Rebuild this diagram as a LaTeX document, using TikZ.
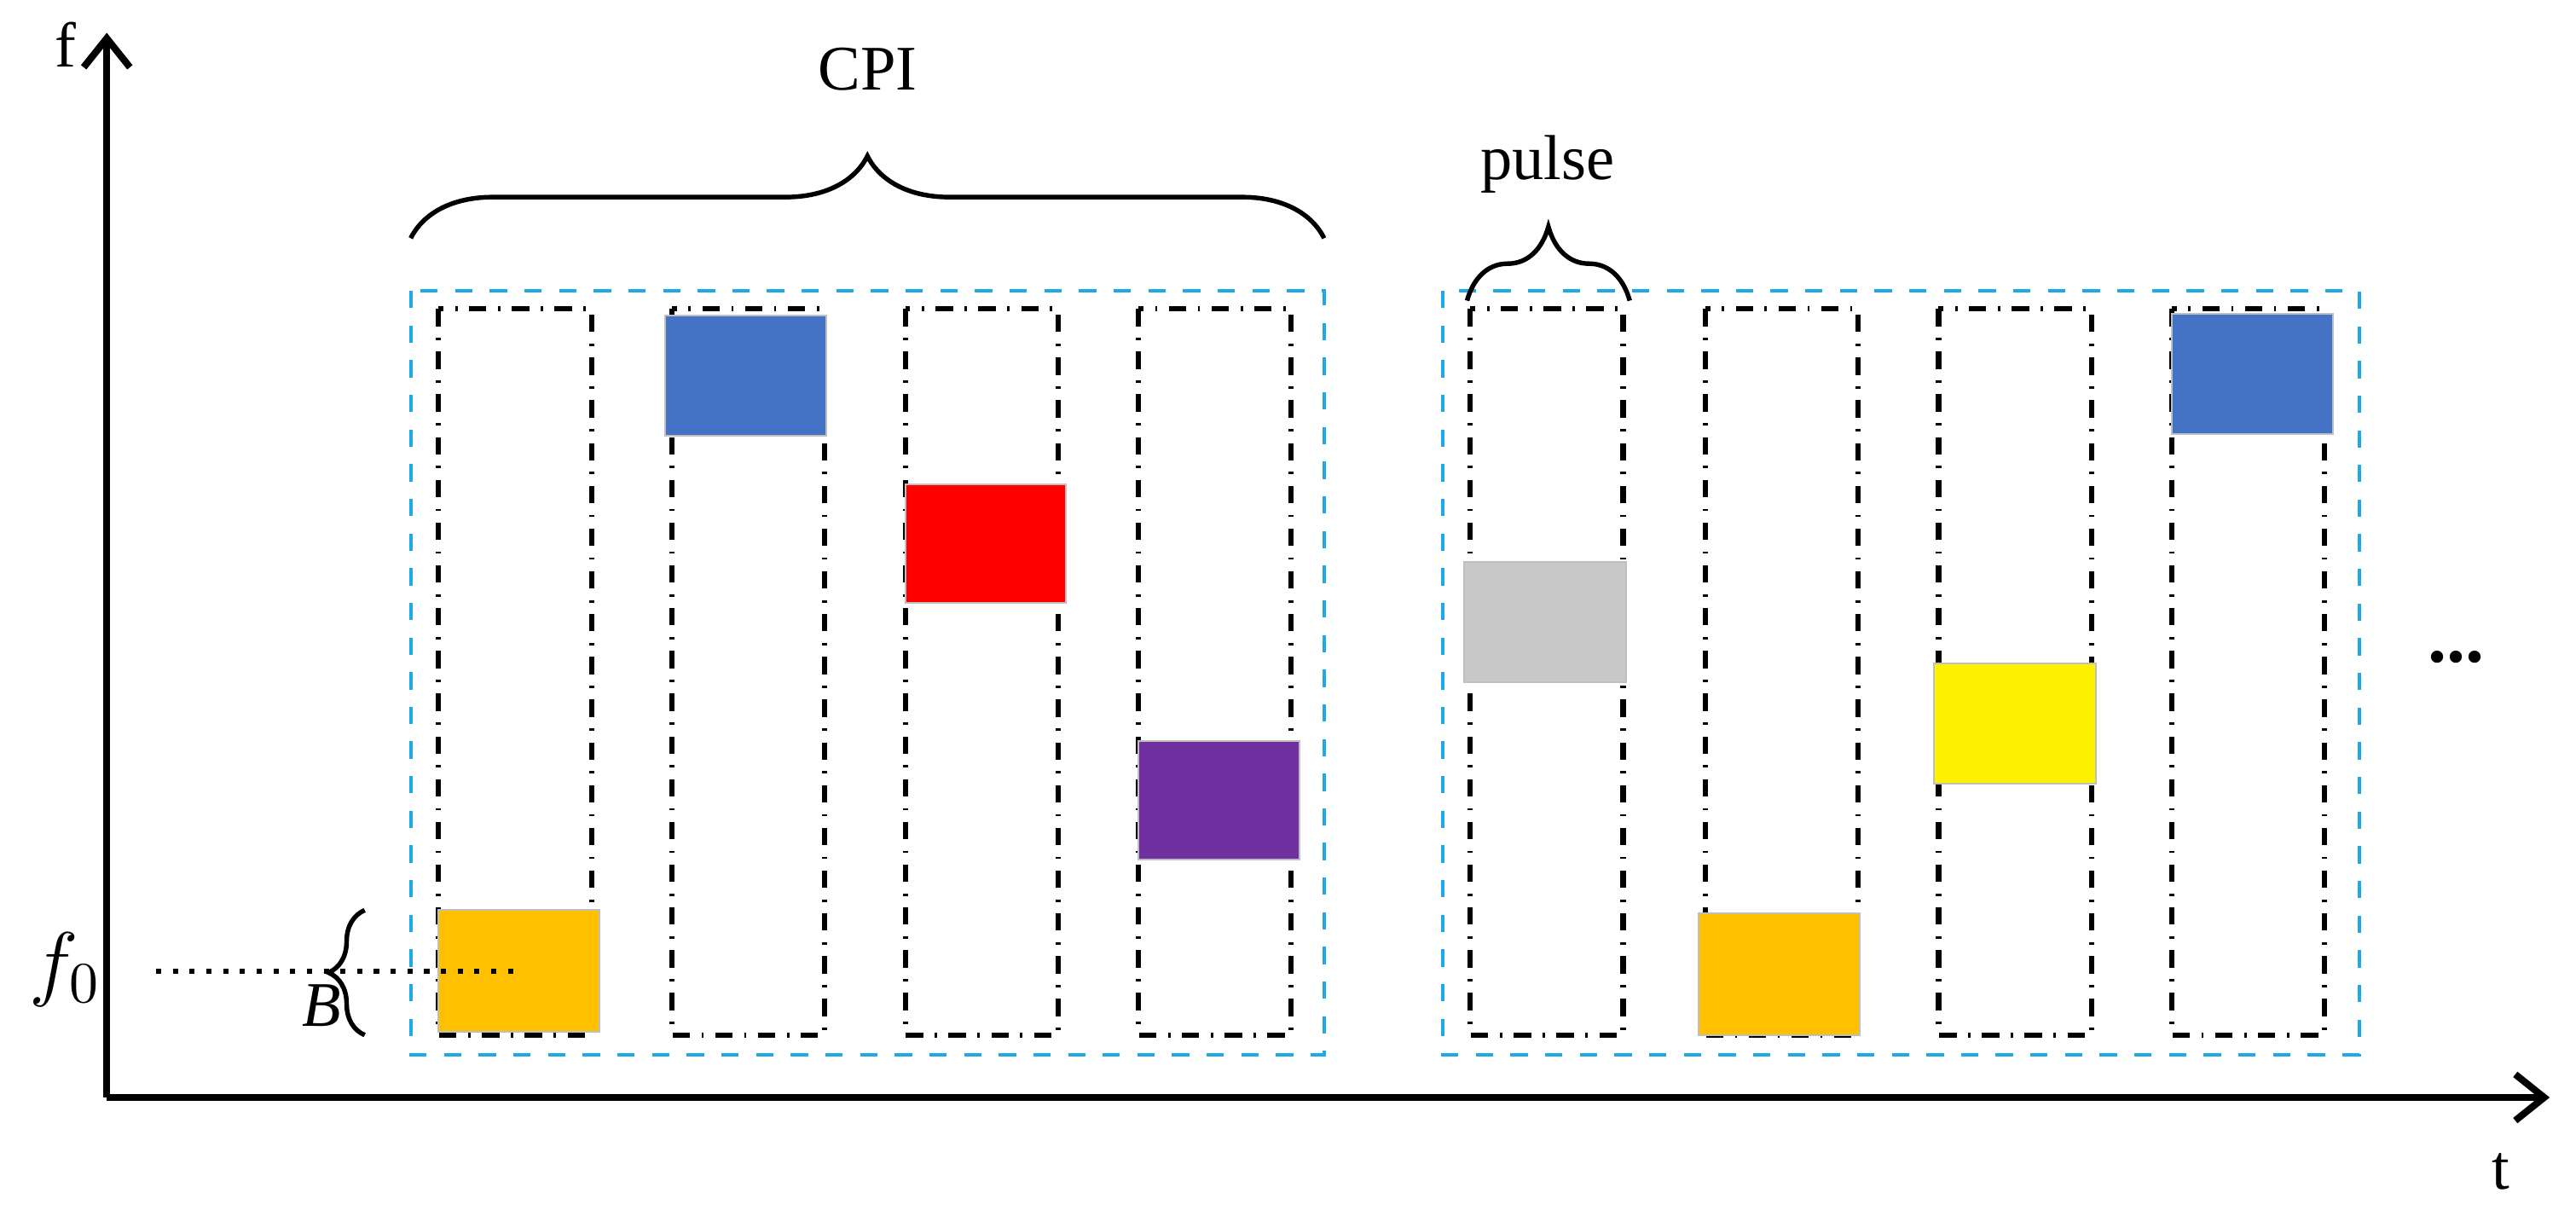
\documentclass[tikz,border=0pt]{standalone}
\usepackage{fontspec}
\setmainfont{Liberation Serif}
\usetikzlibrary{arrows.meta,decorations.pathreplacing}
\definecolor{cyanb}{RGB}{30,170,230}
\definecolor{cblue}{RGB}{68,114,196}
\definecolor{corange}{RGB}{255,192,0}
\definecolor{cpurple}{RGB}{112,48,160}
\definecolor{cgray}{RGB}{200,200,200}
\begin{document}
\begin{tikzpicture}[x=0.01cm,y=-0.01cm,
  axis/.style={line width=1.2pt,-{Straight Barb[length=5pt,width=8pt]}},
  cpibox/.style={draw=cyanb,dashed,line width=0.6pt},
  pulsebox/.style={draw=black,dash dot,line width=0.9pt},
  blk/.style={draw=black!25,line width=0.3pt},
  br/.style={decorate,decoration={brace,amplitude=#1},line width=0.8pt},
  lbl/.style={font=\fontsize{11pt}{13pt}\selectfont}]
\useasboundingbox (0,0) rectangle (1568,740);
\coordinate (o) at (65,668);
\coordinate (ytop) at (65,20);
\coordinate (xend) at (1552,668);
\draw[axis] (o) -- (ytop);
\draw[axis] (o) -- (xend);
\node[lbl] (flab) at (40,27) {f};
\node[lbl] (tlab) at (1522,713) {t};
\draw[cpibox] (250,177) rectangle (806,642);
\draw[cpibox] (878,177) rectangle (1436,642);
\foreach \x in {267,409,551,693,895,1038,1180,1322}{
  \draw[pulsebox] (\x,188) rectangle ++(93,442);}
\fill[blk,fill=corange] (267,554) rectangle (365,628);
\fill[blk,fill=cblue] (405,192) rectangle (503,265);
\fill[blk,fill=red] (551,295) rectangle (649,367);
\fill[blk,fill=cpurple] (693,451) rectangle (791,523);
\fill[blk,fill=cgray] (891,342) rectangle (990,415);
\fill[blk,fill=corange] (1034,556) rectangle (1132,630);
\fill[blk,fill=yellow] (1177,404) rectangle (1276,477);
\fill[blk,fill=cblue] (1322,191) rectangle (1420,264);
\coordinate (c1) at (250,145); \coordinate (c2) at (806,145);
\draw[br=0.5cm] (c1) -- (c2);
\node[lbl] (cpi) at (528,42) {CPI};
\coordinate (p1) at (893,183); \coordinate (p2) at (992,183);
\draw[br=0.45cm] (p1) -- (p2);
\node[lbl] (pulse) at (942,100) {pulse};
\coordinate (b1) at (222,630); \coordinate (b2) at (222,554);
\draw[br=0.22cm] (b1) -- (b2);
\node[lbl,font=\fontsize{11pt}{13pt}\selectfont\itshape] (B) at (196,612) {B};
\coordinate (d1) at (95,591); \coordinate (d2) at (318,591);
\draw[dotted,line width=0.9pt] (d1) -- (d2);
\node[font=\fontsize{14pt}{16pt}\selectfont] (f0) at (40,590) {$f_0$};
\node[font=\fontsize{13pt}{15pt}\selectfont\bfseries] (dots) at (1495,400) {...};
\end{tikzpicture}
\end{document}
